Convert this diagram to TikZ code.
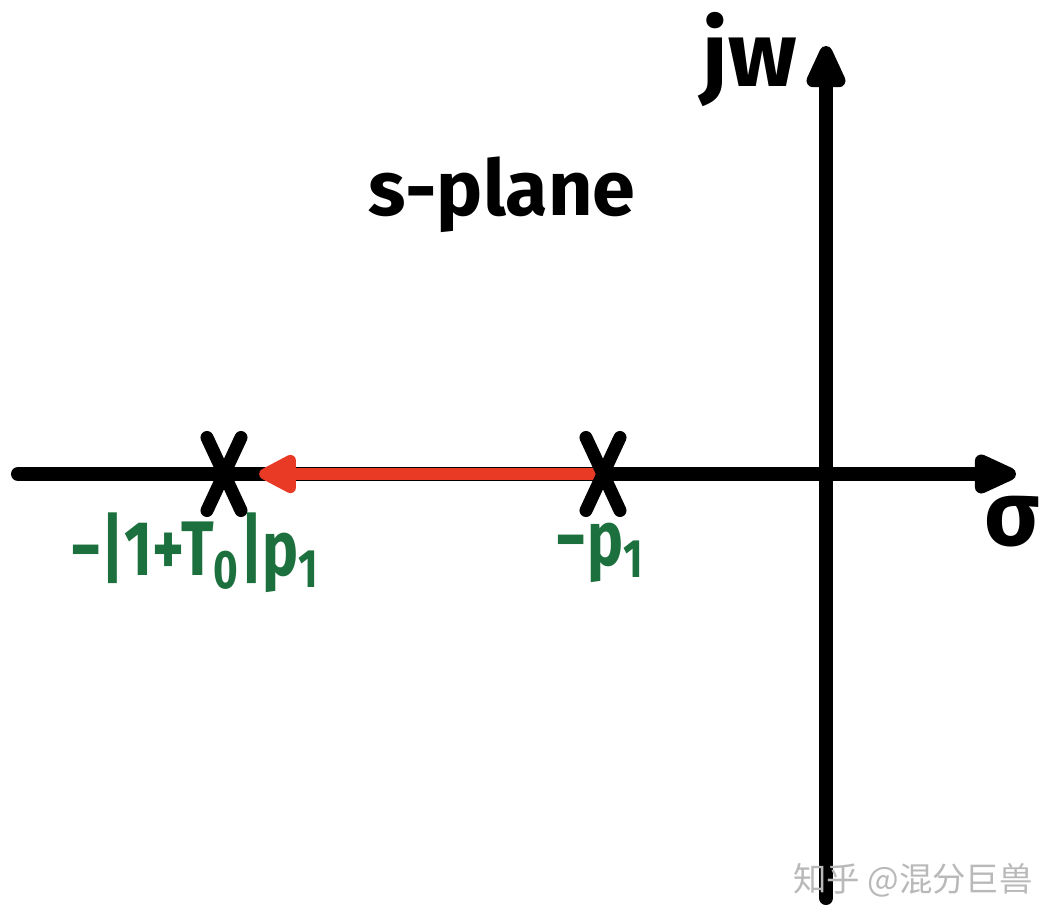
\documentclass[tikz,border=0pt]{standalone}
\usepackage{fontspec}
\setmainfont{Fira Sans}
\newfontfamily\cjkfont{Noto Sans CJK SC}
\usetikzlibrary{arrows.meta,shapes.misc}
\definecolor{polered}{RGB}{232,58,36}
\definecolor{labelgreen}{RGB}{28,112,62}

\begin{document}
\begin{tikzpicture}[x=0.01cm,y=-0.01cm,
    axis/.style={line width=1.4mm,line cap=round,-{Triangle[length=5.2mm,width=4.2mm,round]}},
    pole/.style={cross out,draw,line width=1.3mm,line cap=round,minimum width=2.1mm,minimum height=6mm,inner sep=0pt},
    movearrow/.style={draw=polered,line width=1.2mm,-{Triangle[length=4.4mm,width=4.2mm,round]}},
    poletext/.style={text=labelgreen,font=\bfseries\fontsize{22}{22}\selectfont},
    handtext/.style={font=\bfseries\fontsize{22}{22}\selectfont}]
    \useasboundingbox (0,0) rectangle (1053,923);

    %Axes
    \coordinate (left) at (18,474);
    \coordinate (right) at (1016,474);
    \coordinate (bottom) at (826,898);
    \coordinate (top) at (826,46);
    \draw[axis] (left) -- (right);
    \draw[axis] (bottom) -- (top);
    \node[handtext,font=\bfseries\fontsize{26}{26}\selectfont] (sigma) at (1012,522) {σ};
    \node[handtext,font=\bfseries\fontsize{26}{26}\selectfont] (jw) at (750,60) {jw};
    \node[handtext] (plane) at (502,195) {s-plane};

    %Poles
    \coordinate (p1) at (603,474);
    \coordinate (p2) at (224,474);
    \draw[movearrow] (p1) -- ([xshift=10]p2);
    \node[pole] (pole1) at (p1) {};
    \node[pole] (pole2) at (p2) {};
    \node[poletext] (label2) at (195,553) {\scalebox{0.78}[1]{−|1+T\textsubscript{0}|p\textsubscript{1}}};
    \node[poletext] (label1) at (600,553) {\scalebox{0.78}[1]{−p\textsubscript{1}}};

    %Watermark
    \node[text=gray!55,font=\cjkfont\fontsize{9.5}{9.5}\selectfont] (mark) at (913,880) {知乎 @混分巨兽};
\end{tikzpicture}
\end{document}
